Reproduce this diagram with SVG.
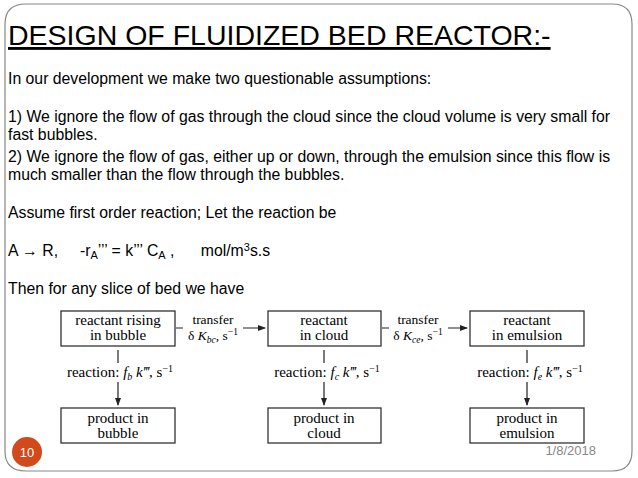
<svg xmlns="http://www.w3.org/2000/svg" width="638" height="478" viewBox="0 0 638 478">
<style>
.b{font-family:"Liberation Sans",Arial,sans-serif;font-size:15.8px;fill:#000}
.s{font-family:"Liberation Serif","Times New Roman",serif;font-size:15px;fill:#000;text-anchor:middle}
.t{font-family:"Liberation Serif","Times New Roman",serif;font-size:13.5px;fill:#000;text-anchor:middle}
.box{fill:#fff;stroke:#333;stroke-width:1.3}
.ln{stroke:#222;stroke-width:1.2;fill:none}
</style>
<defs><marker id="a" markerWidth="8" markerHeight="8" refX="7" refY="4" orient="auto" markerUnits="userSpaceOnUse"><path d="M0,1 L8,4 L0,7z" fill="#222"/></marker></defs>
<rect width="638" height="478" fill="#fff"/>
<path d="M26,4 H612 Q632,4 632,24 V451 Q632,471 612,471 H26 Q5,471 5,451 V24 Q5,4 26,4Z" fill="none" stroke="#888" stroke-width="1.2"/>
<text x="8" y="45" font-family="Liberation Sans,Arial,sans-serif" font-size="28.5" text-decoration="underline">DESIGN OF FLUIDIZED BED REACTOR:-</text>
<text class="b" x="8" y="84">In our development we make two questionable assumptions:</text>
<text class="b" x="8" y="122">1) We ignore the flow of gas through the cloud since the cloud volume is very small for</text>
<text class="b" x="8" y="140">fast bubbles.</text>
<text class="b" x="8" y="162">2) We ignore the flow of gas, either up or down, through the emulsion since this flow is</text>
<text class="b" x="8" y="180">much smaller than the flow through the bubbles.</text>
<text class="b" x="8" y="218">Assume first order reaction; Let the reaction be</text>
<text class="b" x="8" y="256" xml:space="preserve">A → R,     -r<tspan font-size="11" dy="3">A</tspan><tspan dy="-3">’’’ = k’’’ C</tspan><tspan font-size="11" dy="3">A</tspan><tspan dy="-3"> ,      mol/m</tspan><tspan font-size="11" dy="-5">3</tspan><tspan dy="5">s.s</tspan></text>
<text class="b" x="8" y="294">Then for any slice of bed we have</text>
<g id="connectors">
<path class="ln" d="M176,328 H183 M243,328 H265" marker-end="url(#a)"/>
<path class="ln" d="M382,328 H389 M448,328 H467" marker-end="url(#a)"/>
<path class="ln" d="M118,350 V363 M118,382 V405" marker-end="url(#a)"/>
<path class="ln" d="M324,350 V363 M324,382 V405" marker-end="url(#a)"/>
<path class="ln" d="M527,350 V363 M527,382 V405" marker-end="url(#a)"/>
<text class="t" x="213" y="324">transfer</text>
<text class="t" x="213" y="340">δ <tspan font-style="italic">K</tspan><tspan font-style="italic" font-size="9.5" dy="3">bc</tspan><tspan dy="-3">, s</tspan><tspan font-size="9.5" dy="-5">−1</tspan></text>
<text class="t" x="418" y="324">transfer</text>
<text class="t" x="418" y="340">δ <tspan font-style="italic">K</tspan><tspan font-style="italic" font-size="9.5" dy="3">ce</tspan><tspan dy="-3">, s</tspan><tspan font-size="9.5" dy="-5">−1</tspan></text>
<text class="s" x="120" y="377">reaction: <tspan font-style="italic">f</tspan><tspan font-style="italic" font-size="10" dy="3">b</tspan><tspan dy="-3" font-style="italic"> k‴</tspan>, s<tspan font-size="10" dy="-5">−1</tspan></text>
<text class="s" x="327" y="377">reaction: <tspan font-style="italic">f</tspan><tspan font-style="italic" font-size="10" dy="3">c</tspan><tspan dy="-3" font-style="italic"> k‴</tspan>, s<tspan font-size="10" dy="-5">−1</tspan></text>
<text class="s" x="530" y="377">reaction: <tspan font-style="italic">f</tspan><tspan font-style="italic" font-size="10" dy="3">e</tspan><tspan dy="-3" font-style="italic"> k‴</tspan>, s<tspan font-size="10" dy="-5">−1</tspan></text>
</g>
<g id="n1"><rect class="box" x="61" y="311" width="114" height="35"/><text class="s" x="118" y="325">reactant rising</text><text class="s" x="118" y="340">in bubble</text></g>
<g id="n2"><rect class="box" x="268" y="311" width="113" height="35"/><text class="s" x="324" y="325">reactant</text><text class="s" x="324" y="340">in cloud</text></g>
<g id="n3"><rect class="box" x="470" y="311" width="114" height="35"/><text class="s" x="527" y="325">reactant</text><text class="s" x="527" y="340">in emulsion</text></g>
<g id="n4"><rect class="box" x="61" y="408" width="114" height="35"/><text class="s" x="118" y="423">product in</text><text class="s" x="118" y="438">bubble</text></g>
<g id="n5"><rect class="box" x="268" y="408" width="113" height="35"/><text class="s" x="324" y="423">product in</text><text class="s" x="324" y="438">cloud</text></g>
<g id="n6"><rect class="box" x="470" y="408" width="114" height="35"/><text class="s" x="527" y="423">product in</text><text class="s" x="527" y="438">emulsion</text></g>
<circle cx="27" cy="452" r="15" fill="#D24A1C"/>
<text x="27" y="457" font-family="Liberation Sans,Arial,sans-serif" font-size="13" fill="#fff" text-anchor="middle">10</text>
<text x="596" y="455" font-family="Liberation Sans,Arial,sans-serif" font-size="13" fill="#888" text-anchor="end">1/8/2018</text>
</svg>
